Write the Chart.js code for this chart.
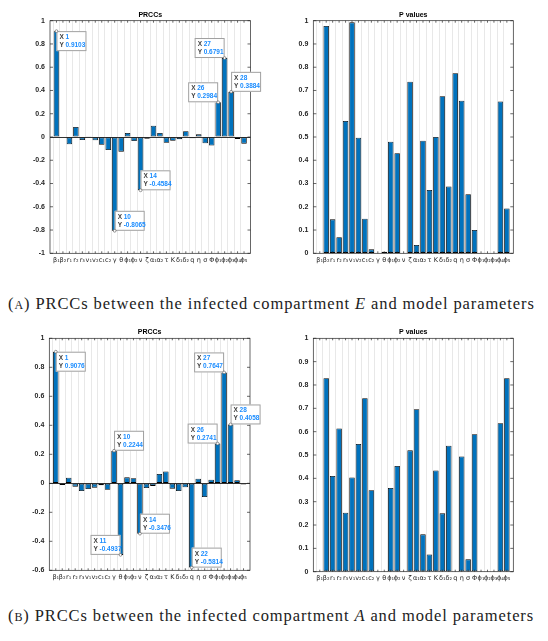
<!DOCTYPE html>
<html>
<head>
<meta charset="utf-8">
<script src="https://cdn.jsdelivr.net/npm/chart.js@4.4.0/dist/chart.umd.min.js"></script>
<style>
  body { margin: 0; background: #fff; width: 548px; height: 641px; position: relative; overflow: hidden; }
  .box { position: absolute; width: 274px; height: 272px; }
  .cap { position: absolute; left: 8px; font-family: "Liberation Serif", serif; font-size: 16.5px; letter-spacing: 0.9px; color: #222; white-space: nowrap; }
  .sc { font-variant: small-caps; }
</style>
</head>
<body>
<div class="box" style="left:0;top:0"><canvas id="prccE"></canvas></div>
<div class="box" style="left:274px;top:0"><canvas id="pE"></canvas></div>
<div class="box" style="left:0;top:318px"><canvas id="prccA"></canvas></div>
<div class="box" style="left:274px;top:318px"><canvas id="pA"></canvas></div>
<div class="cap" style="top:294px">(<span class="sc">a</span>) PRCCs between the infected compartment <i>E</i> and model parameters</div>
<div class="cap" style="top:606px">(<span class="sc">b</span>) PRCCs between the infected compartment <i>A</i> and model parameters</div>
<script>
// parameter names (x tick labels)
const names = ['β₁','β₂','r₁','r₂','r₃','v₁','v₂','c₁','c₂','γ','θ','ϕ₁','ϕ₂','ν','ζ','α₁','α₂','τ','K','δ₁','δ₂','q','η','σ','Φ','ϕ₁','ϕ₂','ϕ₃','ϕ₄','ϕ₅'];

// (A) compartment E
const prccE = [0.9103, 0.004, -0.063, 0.086, -0.026, 0.003, -0.029, -0.066, -0.112, -0.8065,
               -0.126, 0.034, -0.034, -0.4584, -0.014, 0.097, 0.034, -0.049, -0.032, -0.020,
               0.049, -0.011, 0.023, -0.054, -0.074, 0.2984, 0.6791, 0.3884, -0.017, -0.057];
const pE = [0, 0.977, 0.146, 0.069, 0.569, 0.993, 0.497, 0.149, 0.017, 0,
            0.007, 0.480, 0.430, 0, 0.738, 0.036, 0.484, 0.272, 0.500, 0.675,
            0.287, 0.774, 0.656, 0.254, 0.100, 0, 0, 0, 0.653, 0.193];

// (B) compartment A
const prccA = [0.9076, -0.012, 0.039, -0.023, -0.053, -0.040, -0.030, -0.014, -0.044, 0.2244,
               -0.4937, 0.041, 0.035, -0.3476, -0.032, -0.018, 0.065, 0.081, -0.037, -0.053,
               -0.028, -0.5814, 0.032, -0.094, 0.025, 0.2741, 0.7647, 0.4058, 0.021, -0.009];
const pA = [0, 0.829, 0.410, 0.614, 0.253, 0.404, 0.547, 0.743, 0.349, 0,
            0, 0.359, 0.453, 0, 0.520, 0.696, 0.160, 0.074, 0.434, 0.250,
            0.540, 0, 0.494, 0.053, 0.589, 0, 0, 0, 0.636, 0.829];

// data tips: which bar, and which corner of the box sits on the point
const tipsE = [{i: 1, c: 'tl'}, {i: 10, c: 'bl'}, {i: 14, c: 'bl'}, {i: 26, c: 'br'}, {i: 27, c: 'br'}, {i: 28, c: 'bl'}];
const tipsA = [{i: 1, c: 'tl'}, {i: 10, c: 'bl'}, {i: 11, c: 'br'}, {i: 14, c: 'bl'}, {i: 22, c: 'bl'},
               {i: 26, c: 'br'}, {i: 27, c: 'br'}, {i: 28, c: 'bl'}];

const blue = '#0072BD';

function line(ctx, x1, y1, x2, y2) {
    ctx.beginPath(); ctx.moveTo(x1, y1); ctx.lineTo(x2, y2); ctx.stroke();
}

// MATLAB style box, inward ticks, title and data tips
const matlabBox = {
    id: 'matlabBox',
    afterDraw(chart, args, opts) {
        const {ctx, chartArea: a, scales: {x, y}} = chart;
        ctx.save();
        ctx.strokeStyle = '#262626';
        ctx.lineWidth = 0.7;
        y.ticks.forEach(t => {
            const py = y.getPixelForValue(t.value);
            line(ctx, a.left, py, a.left + 3, py);
            line(ctx, a.right, py, a.right - 3, py);
        });
        for (let i = 1; i <= names.length; i++) {
            const px = x.getPixelForValue(i);
            line(ctx, px, a.bottom, px, a.bottom - 2);
            line(ctx, px, a.top, px, a.top + 2);
        }
        ctx.strokeRect(a.left, a.top, a.width, a.height);

        ctx.fillStyle = '#000';
        ctx.font = 'bold 7px "Liberation Sans"';
        ctx.textAlign = 'center';
        ctx.fillText(opts.title, (a.left + a.right) / 2, a.top - 4);

        const vals = chart.data.datasets[0].data;
        (opts.tips || []).forEach(tip => {
            const v = vals[tip.i];
            const px = x.getPixelForValue(tip.i);
            const py = y.getPixelForValue(v);
            const w = 30, h = 20;
            let bx = px, by = py;
            if (tip.c === 'bl') by = py - h;
            if (tip.c === 'br') { bx = px - w; by = py - h; }
            ctx.fillStyle = '#fff';
            ctx.strokeStyle = '#a0a0a0';
            ctx.lineWidth = 1;
            ctx.fillRect(bx, by, w, h);
            ctx.strokeRect(bx + 0.5, by + 0.5, w - 1, h - 1);
            ctx.textAlign = 'left';
            ctx.font = 'bold 6.5px "Liberation Sans"';
            ctx.fillStyle = '#404040';
            ctx.fillText('X', bx + 3, by + 8);
            ctx.fillText('Y', bx + 3, by + 16);
            ctx.fillStyle = '#1a8cff';
            ctx.fillText(String(tip.i), bx + 9, by + 8);
            ctx.fillText(v.toFixed(4), bx + 9, by + 16);
            // marker
            ctx.beginPath();
            ctx.arc(px, py, 1.4, 0, Math.PI * 2);
            ctx.fillStyle = '#fff';
            ctx.fill();
            ctx.strokeStyle = '#555';
            ctx.lineWidth = 0.6;
            ctx.stroke();
        });
        ctx.restore();
    }
};

function makeChart(id, values, o) {
    const labels = [''].concat(names, ['']);
    const data = [null].concat(values, [null]);
    return new Chart(document.getElementById(id), {
        type: 'bar',
        data: {
            labels: labels,
            datasets: [{
                data: data,
                backgroundColor: blue,
                borderColor: '#000',
                borderWidth: 0.8,
                borderSkipped: false,
                barPercentage: 0.85,
                categoryPercentage: 1
            }]
        },
        plugins: [matlabBox],
        options: {
            responsive: true,
            maintainAspectRatio: false,
            animation: false,
            layout: { padding: { left: 0, right: o.right, top: o.top, bottom: 0 } },
            plugins: {
                legend: { display: false },
                tooltip: { enabled: false },
                matlabBox: { title: o.title, tips: o.tips }
            },
            scales: {
                x: {
                    type: 'category',
                    offset: false,
                    afterFit: s => { s.height = o.xh; },
                    border: { display: false },
                    grid: {
                        drawTicks: false,
                        lineWidth: 0.7,
                        color: c => (c.index > 0 && c.index <= names.length) ? '#dedede' : 'rgba(0,0,0,0)'
                    },
                    ticks: {
                        autoSkip: false, maxRotation: 0, minRotation: 0, padding: 3,
                        color: '#262626',
                        font: { family: 'DejaVu Sans', size: 6.5 }
                    }
                },
                y: {
                    min: o.min, max: o.max,
                    afterFit: s => { s.width = o.yw; },
                    border: { display: false },
                    grid: {
                        drawTicks: false,
                        lineWidth: 0.8,
                        color: c => (o.zero && c.tick && Math.abs(c.tick.value) < 1e-9) ? '#000' : 'rgba(0,0,0,0)'
                    },
                    ticks: {
                        stepSize: o.step, padding: 5,
                        color: '#262626',
                        font: { family: 'Liberation Sans', size: 7, weight: 'bold' },
                        callback: v => String(Number(v.toFixed(2)))
                    }
                }
            }
        }
    });
}

makeChart('prccE', prccE, { title: 'PRCCs', tips: tipsE, min: -1, max: 1, step: 0.2, zero: true,
                            yw: 50, right: 23.5, top: 20.7, xh: 18.7 });
makeChart('pE', pE, { title: 'P values', tips: [], min: 0, max: 1, step: 0.1, zero: false,
                      yw: 39.3, right: 34.7, top: 20.7, xh: 18.7 });
makeChart('prccA', prccA, { title: 'PRCCs', tips: tipsA, min: -0.6, max: 1, step: 0.2, zero: true,
                            yw: 49.3, right: 24, top: 20.3, xh: 19.7 });
makeChart('pA', pA, { title: 'P values', tips: [], min: 0, max: 1, step: 0.1, zero: false,
                      yw: 39.3, right: 34.7, top: 20.3, xh: 18.3 });
</script>
</body>
</html>
